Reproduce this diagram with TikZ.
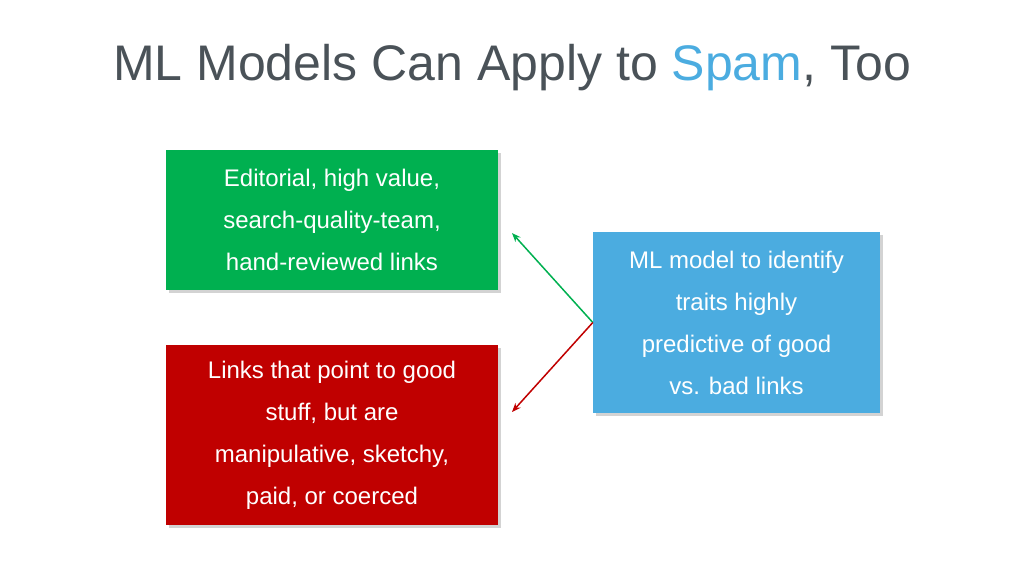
\documentclass[tikz,border=0pt]{standalone}
\usepackage{fontspec}
\setmainfont{Liberation Sans}
\usetikzlibrary{shadows,arrows.meta}
\definecolor{tgray}{HTML}{4A5258}
\definecolor{tblue}{HTML}{4BACE0}
\definecolor{bgreen}{HTML}{00B050}
\definecolor{bred}{HTML}{C00000}
\definecolor{bblue}{HTML}{4BACE0}
\begin{document}
\begin{tikzpicture}[x=1pt,y=-1pt,
 box/.style={draw=none,text=white,align=center,font=\fontsize{24}{42}\selectfont,inner sep=0pt,
   drop shadow={shadow xshift=3pt,shadow yshift=-3pt,opacity=0.35}},
 arr/.style={line width=1.5pt,-{Stealth[length=9pt,width=7pt]}}]
\useasboundingbox (0,0) rectangle (1024,576);
\node[text=tgray,font=\fontsize{50}{60}\selectfont] (title) at (512,68) {ML Models Can Apply to \textcolor{tblue}{Spam}, Too};
\node[box,fill=bgreen,minimum width=332pt,minimum height=140pt] (g) at (332,220) {Editorial, high value,\\search-quality-team,\\hand-reviewed links};
\node[box,fill=bred,minimum width=332pt,minimum height=180pt] (r) at (332,435) {Links that point to good\\stuff, but are\\manipulative, sketchy,\\paid, or coerced};
\node[box,fill=bblue,minimum width=287pt,minimum height=181pt] (b) at (736.5,322.5) {ML model to identify\\traits highly\\predictive of good\\vs. bad links};
\coordinate (gt) at (512,233);
\coordinate (rt) at (512,412);
\draw[arr,bgreen] (b.west) -- (gt);
\draw[arr,bred] (b.west) -- (rt);
\end{tikzpicture}
\end{document}
